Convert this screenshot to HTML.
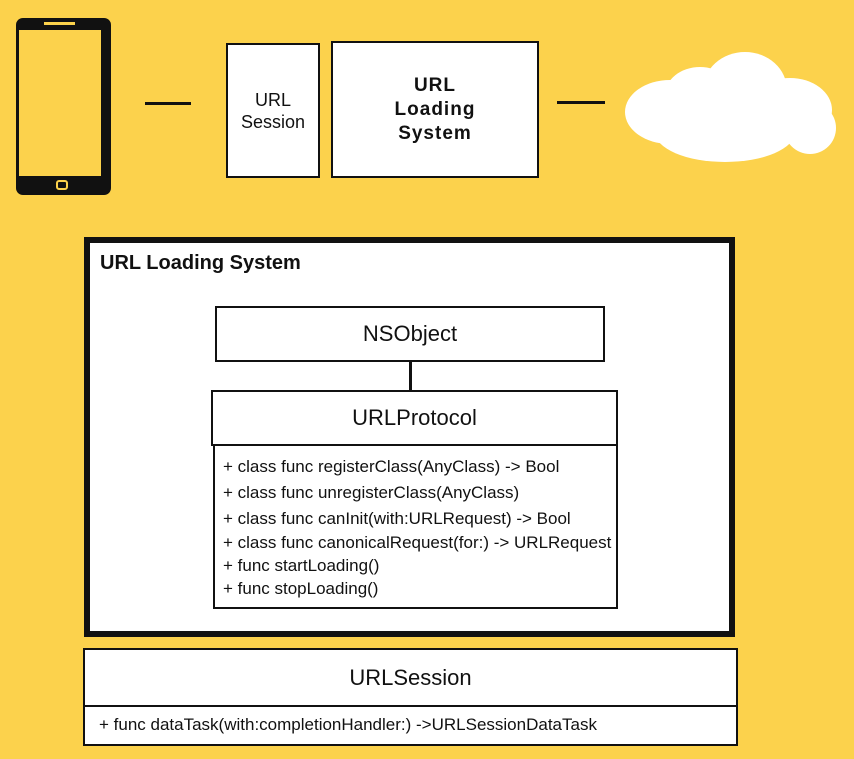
<!DOCTYPE html><html><head><style>
body{margin:0;width:854px;height:759px;background:#FCD24C;position:relative;overflow:hidden;font-family:"Liberation Sans",sans-serif;color:#111}
.a{position:absolute;box-sizing:border-box}
.b{background:#fff;border:2px solid #111}
.c{display:flex;align-items:center;justify-content:center;text-align:center}
.m{position:absolute;left:8px;font-size:17px;white-space:nowrap;letter-spacing:0px}
</style></head><body>
<div class="a" style="left:16px;top:18px;width:95px;height:177px;background:#111;border-radius:7px"></div>
<div class="a" style="left:19px;top:30px;width:82px;height:146px;background:#FCD24C"></div>
<div class="a" style="left:44px;top:22px;width:31px;height:3px;background:#FCD24C"></div>
<div class="a" style="left:56px;top:180px;width:12px;height:10px;border:2px solid #FCD24C;border-radius:3px"></div>
<div class="a" style="left:145px;top:102px;width:46px;height:3px;background:#111"></div>
<div class="a" style="left:557px;top:101px;width:48px;height:3px;background:#111"></div>
<div class="a b c" style="left:226px;top:43px;width:94px;height:135px;font-size:18px;line-height:22px">URL<br>Session</div>
<div class="a b c" style="left:331px;top:41px;width:208px;height:137px;font-size:19px;font-weight:bold;line-height:24px;letter-spacing:1px">URL<br>Loading<br>System</div>
<svg class="a" style="left:620px;top:50px" width="220" height="116"><g fill="#fff">
<ellipse cx="50" cy="62" rx="45" ry="32"/><ellipse cx="80" cy="45" rx="35" ry="28"/><ellipse cx="125" cy="40" rx="42" ry="38"/><ellipse cx="170" cy="60" rx="42" ry="32"/><ellipse cx="105" cy="82" rx="70" ry="30"/><ellipse cx="190" cy="78" rx="26" ry="26"/></g></svg>
<div class="a b" style="left:84px;top:237px;width:651px;height:400px;border:6px solid #111"></div>
<div class="a" style="left:100px;top:252px;font-size:20px;font-weight:bold">URL Loading System</div>
<div class="a b c" style="left:215px;top:306px;width:390px;height:56px;font-size:22px">NSObject</div>
<div class="a" style="left:409px;top:361px;width:3px;height:30px;background:#111"></div>
<div class="a b c" style="left:211px;top:390px;width:407px;height:56px;font-size:22px">URLProtocol</div>
<div class="a b" style="left:213px;top:444px;width:405px;height:165px">
<div class="m" style="top:11px">+ class func registerClass(AnyClass) -&gt; Bool</div>
<div class="m" style="top:37px">+ class func unregisterClass(AnyClass)</div>
<div class="m" style="top:63px">+ class func canInit(with:URLRequest) -&gt; Bool</div>
<div class="m" style="top:87px">+ class func canonicalRequest(for:) -&gt; URLRequest</div>
<div class="m" style="top:110px">+ func startLoading()</div>
<div class="m" style="top:133px">+ func stopLoading()</div>
</div>
<div class="a b c" style="left:83px;top:648px;width:655px;height:59px;font-size:22px">URLSession</div>
<div class="a b" style="left:83px;top:705px;width:655px;height:41px">
<div class="m" style="top:8px;left:14px">+ func dataTask(with:completionHandler:) -&gt;URLSessionDataTask</div></div>
</body></html>
